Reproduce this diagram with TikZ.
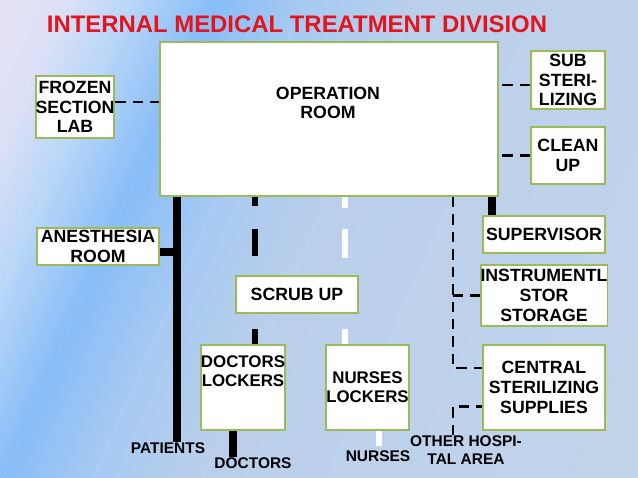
\documentclass[tikz,border=0pt]{standalone}
\usepackage{fontspec}
\setmainfont{Liberation Sans}

\definecolor{boxgreen}{HTML}{9BBB59}
\definecolor{titlered}{HTML}{E3141B}
\definecolor{bgA}{HTML}{F4E4F4}
\definecolor{bgB}{HTML}{DCE0F7}
\definecolor{bgC}{HTML}{B8D6F8}
\definecolor{bgD}{HTML}{88BDF8}
\definecolor{bgE}{HTML}{A7CAF2}
\definecolor{bgF}{HTML}{BACFEB}
\definecolor{bgG}{HTML}{C5D6EA}

\newdimen\px \px=0.025cm
\pgfdeclarelayer{bg}
\pgfdeclarelayer{lines}
\pgfsetlayers{bg,lines,main}

\tikzset{
  roomtext/.style={font=\bfseries\fontsize{12.6}{14}\selectfont, align=center, inner sep=0pt},
  room/.style={roomtext, draw=boxgreen, line width=1.4pt, fill=white},
  roomsize/.style 2 args={minimum width=#1\px, minimum height=#2\px},
  way/.style={font=\bfseries\fontsize{11}{12.8}\selectfont, align=center, inner sep=0pt},
  solidway/.style={line width=5pt},
  whiteway/.style={line width=4pt, white},
  blackdash/.style={line width=4.3pt, dash pattern=on 19.2pt off 16.4pt, dash phase=12.8pt},
  whitedash/.style={line width=3.6pt, white, dash pattern=on 20.6pt off 15pt, dash phase=12.8pt},
  thindash/.style={line width=2.1pt, dash pattern=on 7.4pt off 5pt}
}

\begin{document}
\begin{tikzpicture}[x=0.025cm, y=-0.025cm]
  \useasboundingbox (0,0) rectangle (638,478);

  % tlo (skosny gradient)
  \begin{pgfonlayer}{bg}
    \begin{scope}
      \clip (0,0) rectangle (638,478);
      \begin{scope}[transform canvas={rotate around={-24:(0,0)}}]
        \shade[left color=bgA, right color=bgB] (-100,-900) rectangle (60,900);
        \shade[left color=bgB, right color=bgC] (60,-900) rectangle (120,900);
        \shade[left color=bgC, right color=bgD] (120,-900) rectangle (197,900);
        \shade[left color=bgD, right color=bgE] (197,-900) rectangle (280,900);
        \shade[left color=bgE, right color=bgF] (280,-900) rectangle (380,900);
        \shade[left color=bgF, right color=bgG] (380,-900) rectangle (900,900);
      \end{scope}
    \end{scope}
  \end{pgfonlayer}

  % tytul
  \node[font=\bfseries\fontsize{17}{20}\selectfont, text=titlered, anchor=base] (title) at (297,33) {INTERNAL MEDICAL TREATMENT DIVISION};

  % pomieszczenia
  \node[room, roomsize={338}{154}] (oproom) at (329,119) {};
  \node[roomtext] (optext) at (328,103) {OPERATION\\ROOM};
  \node[room, roomsize={78}{62}] (frozen) at (75,107) {FROZEN\\SECTION\\LAB};
  \node[room, roomsize={74}{58}] (subster) at (568,80) {SUB\\STERI-\\LIZING};
  \node[room, roomsize={74}{57}] (cleanup) at (568,155.5) {CLEAN\\UP};
  \node[room, roomsize={122}{37}] (anest) at (98,246.5) {ANESTHESIA\\ROOM};
  \node[room, roomsize={122}{37}] (supervisor) at (544,234.5) {SUPERVISOR};
  \node[room, roomsize={122}{61}] (instr) at (544,295.5) {INSTRUMENTL\\STOR\\STORAGE};
  \node[room, roomsize={122}{37}] (scrub) at (297,294.5) {SCRUB UP};
  \node[room, roomsize={82}{85}, font=\bfseries\fontsize{12}{13.6}\selectfont] (doclock) at (243,387.5) {DOCTORS\\LOCKERS\\[1.5ex]};
  \node[room, roomsize={83}{85}, font=\bfseries\fontsize{12}{13.6}\selectfont] (nurlock) at (367.5,387.5) {NURSES\\LOCKERS};
  \node[room, roomsize={122}{85}] (central) at (544,387.5) {CENTRAL\\STERILIZING\\SUPPLIES};

  % wyjscia
  \node[way] (patients) at (168,448) {PATIENTS};
  \node[way] (doctors) at (253,463) {DOCTORS};
  \node[way] (nurses) at (378,456) {NURSES};
  \node[way] (other) at (466,450) {OTHER HOSPI-\\TAL AREA};

  % polaczenia
  \begin{pgfonlayer}{lines}
    \coordinate (patx) at (177,0);
    \coordinate (docx) at (255,0);
    \coordinate (nurx) at (345,0);
    \coordinate (supx) at (492,0);
    \coordinate (rx) at (453,0);

    \draw[solidway] (oproom.south -| patx) -- (patients.north -| patx);
    \draw[solidway] ([yshift=-5.5\px]anest.east) -- ([yshift=-5.5\px]anest.east -| patx);
    \draw[blackdash] (oproom.south -| docx) -- (doclock.north -| docx);
    \draw[solidway] ([xshift=-10\px]doclock.south) -- ([xshift=-10\px]doclock.south |- doctors.north);
    \draw[whitedash] (oproom.south -| nurx) -- (nurlock.north -| nurx);
    \draw[whiteway] ([xshift=11.5\px]nurlock.south) -- ([xshift=11.5\px,yshift=4\px]nurlock.south |- nurses.north);
    \draw[line width=5.7pt] (oproom.south -| supx) -- (supervisor.north -| supx);

    \draw[thindash] ([yshift=5\px]frozen.east) -- ([yshift=5\px]frozen.east -| oproom.west);
    \draw[thindash] ([yshift=-5\px]subster.west) -- ([yshift=-5\px]subster.west -| oproom.east);
    \draw[thindash] (cleanup.west) -- (cleanup.west -| oproom.east);
    \draw[thindash] (oproom.south -| rx) |- ([yshift=19.5\px]central.west);
    \draw[thindash] (rx |- instr.west) -- (instr.west);
    \draw[thindash] (other.north -| rx) |- ([yshift=-19\px]central.west);
  \end{pgfonlayer}
\end{tikzpicture}
\end{document}
